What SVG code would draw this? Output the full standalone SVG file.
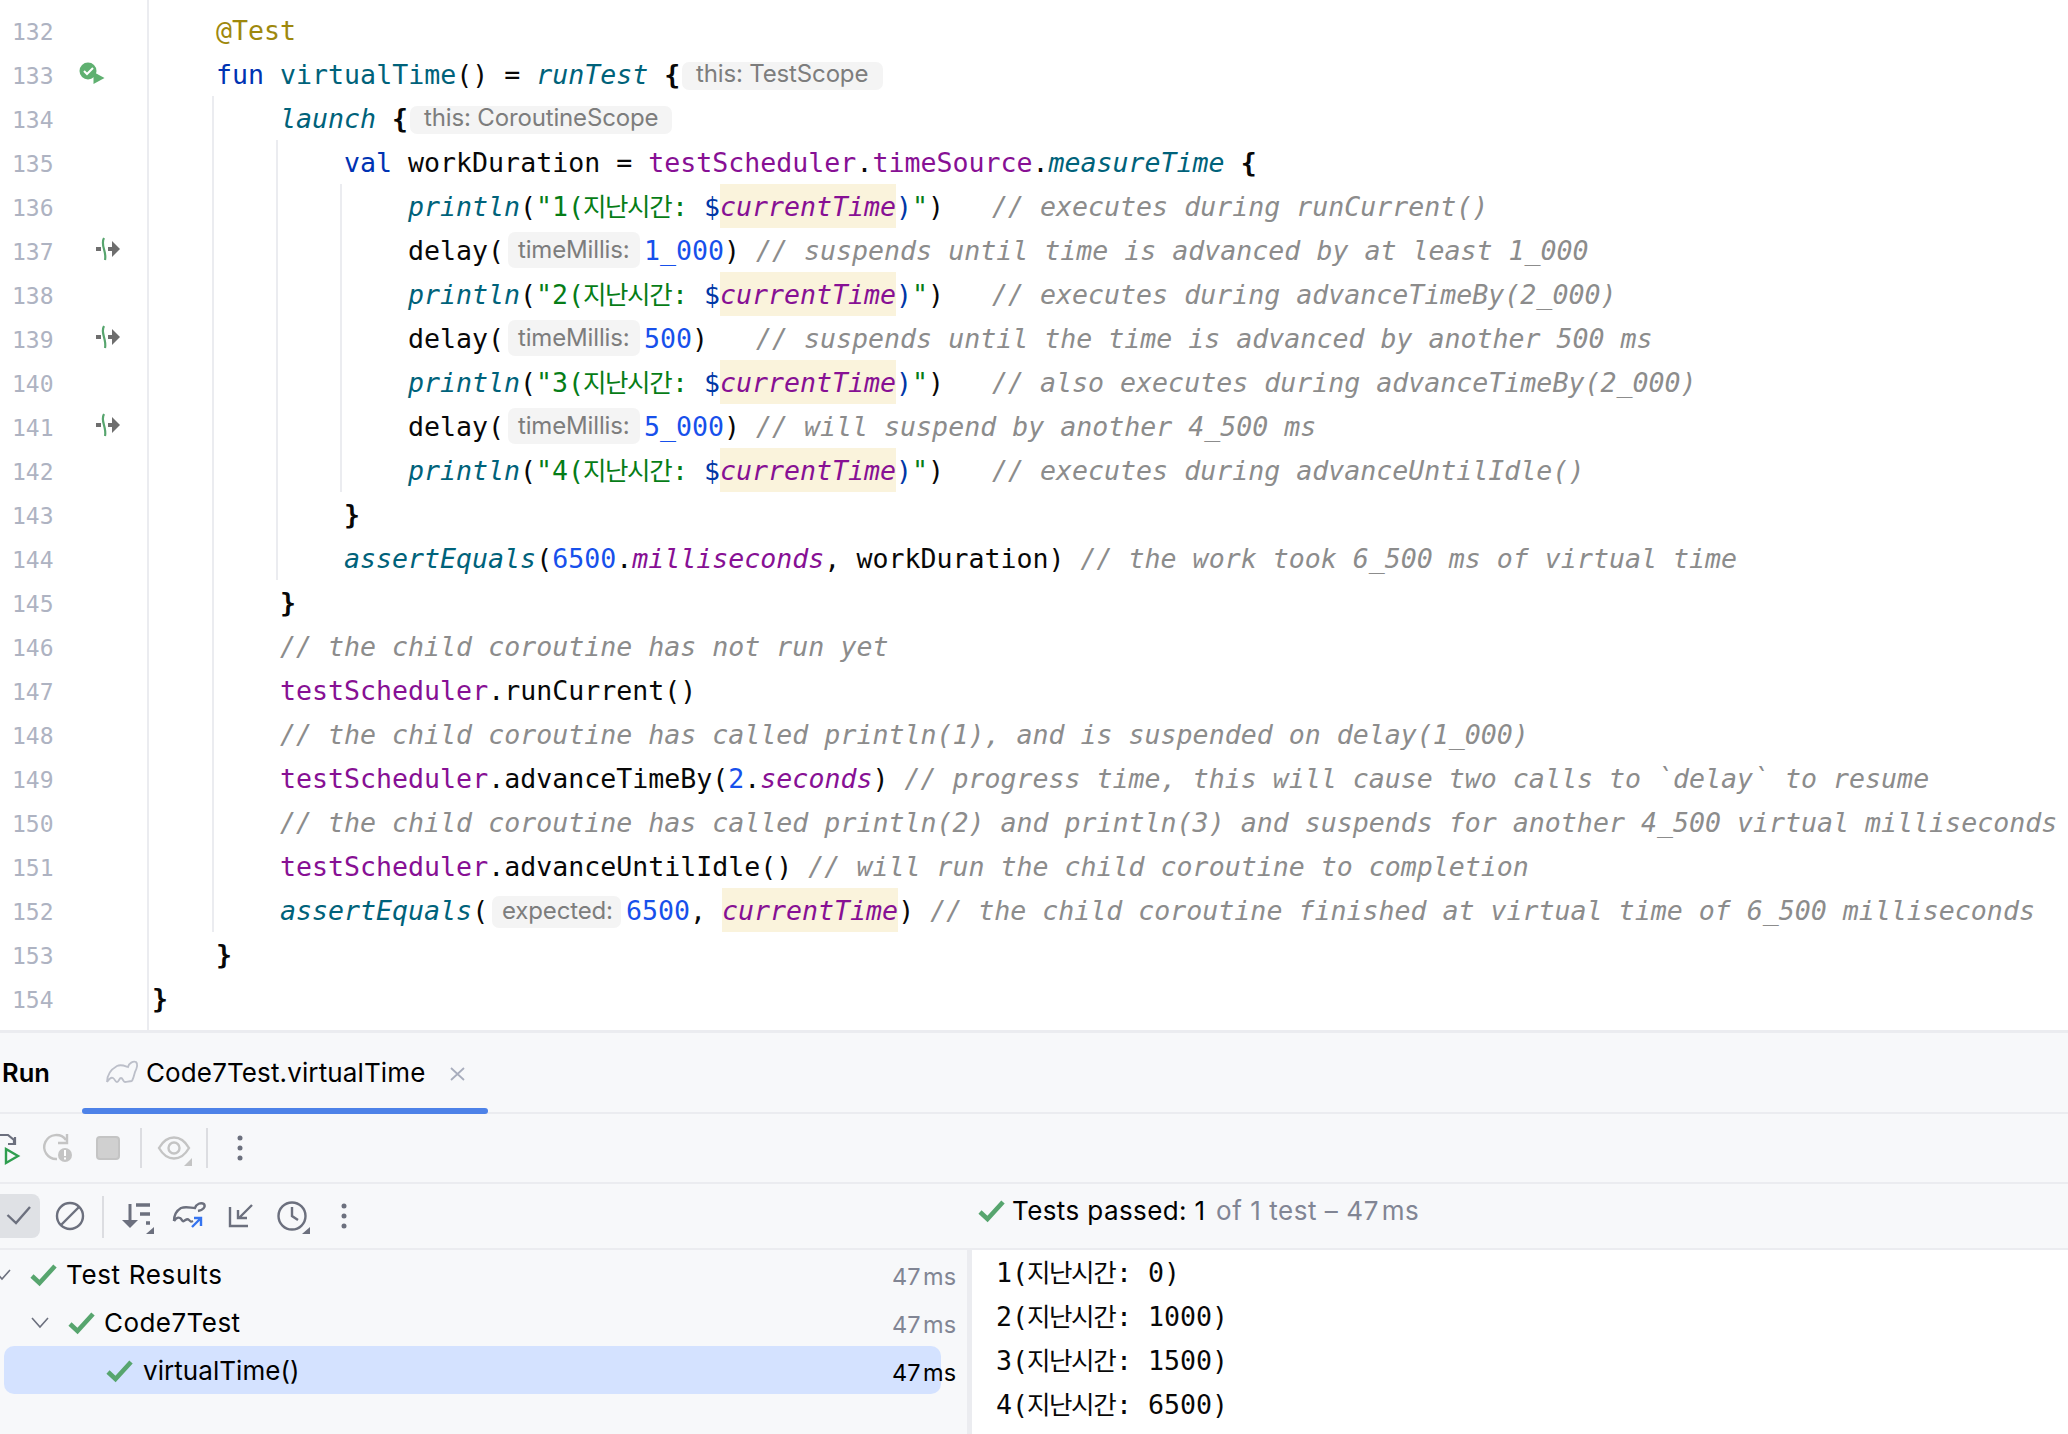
<svg xmlns="http://www.w3.org/2000/svg" width="2068" height="1434" viewBox="0 0 2068 1434">
<style>
text{white-space:pre}
.c{font-family:"DejaVu Sans Mono","Liberation Mono",monospace;font-size:26.6px;fill:#080808}
.k{fill:#0033b3}.f{fill:#00627a}.i{font-style:italic}.p{fill:#871094}.s{fill:#067d17}.m{fill:#8c8c8c;font-style:italic}.n{fill:#1750eb}.a{fill:#9e880d}.d{fill:#0037a6}.b{font-weight:bold}
.h{font-family:"Noto Sans CJK KR",sans-serif;font-size:25.500px;letter-spacing:-1.400px}
.ln{font-family:"DejaVu Sans Mono",monospace;font-size:23px;fill:#aeb3c2}
.u{font-family:Inter,"Noto Sans",sans-serif}
.il{font-family:Inter,"Noto Sans",sans-serif;font-size:24px;fill:#7d7d7d;letter-spacing:-.15px}
.ib{fill:#f4f4f4}
.hl{fill:#faf3dc}
.ig{fill:#ebecf0}
.t{font-family:Inter,"Noto Sans",sans-serif;font-size:26px;fill:#000}
.g{fill:#818594}
.ms{font-size:23.500px;word-spacing:-4px}
.ck{fill:none;stroke:#57a56e;stroke-width:4.600}
.ic{fill:none;stroke:#6c707e;stroke-width:2.400}
.dis{fill:none;stroke:#c4c4c4;stroke-width:2.400}
</style>
<defs>
<g id="susp"><rect x="96" y="-2" width="5" height="4" fill="#6e6e6e"/><rect x="108" y="-2" width="6" height="4" fill="#6e6e6e"/><path d="M112-8L120 0 112 8Z" fill="#6e6e6e"/><path d="M104-11C100-4 107 2 105 11" fill="none" stroke="#57a56e" stroke-width="2.200"/></g>
<path id="tick" d="M1 10L8.500 17 24 0" class="ck"/>
</defs>
<rect width="2068" height="1434" fill="#fff"/>
<g id="editor-guides">
<rect class="ig" x="147" y="0" width="2" height="1030"/>
<rect class="ig" x="212" y="96" width="2" height="836"/>
<rect class="ig" x="276" y="140" width="2" height="440"/>
<rect class="ig" x="340" y="184" width="2" height="308"/>
</g>
<g id="highlights">
<rect class="hl" x="720" y="184" width="176" height="44"/>
<rect class="hl" x="720" y="272" width="176" height="44"/>
<rect class="hl" x="720" y="360" width="176" height="44"/>
<rect class="hl" x="720" y="448" width="176" height="44"/>
<rect class="hl" x="722" y="888" width="176" height="44"/>
</g>
<g id="line-numbers" class="ln">
<text x="12" y="40">132</text><text x="12" y="84">133</text><text x="12" y="128">134</text><text x="12" y="172">135</text><text x="12" y="216">136</text><text x="12" y="260">137</text><text x="12" y="304">138</text><text x="12" y="348">139</text><text x="12" y="392">140</text><text x="12" y="436">141</text><text x="12" y="480">142</text><text x="12" y="524">143</text><text x="12" y="568">144</text><text x="12" y="612">145</text><text x="12" y="656">146</text><text x="12" y="700">147</text><text x="12" y="744">148</text><text x="12" y="788">149</text><text x="12" y="832">150</text><text x="12" y="876">151</text><text x="12" y="920">152</text><text x="12" y="964">153</text><text x="12" y="1008">154</text>
</g>
<g id="gutter-icons">
<circle cx="88" cy="71" r="8.500" fill="#5fb070"/><path d="M84 71l3 3 6-6" fill="none" stroke="#fff" stroke-width="2"/><path d="M93.500 72L104.500 78 93.500 84Z" fill="#5fb070"/>
<use href="#susp" y="249"/><use href="#susp" y="337"/><use href="#susp" y="425"/>
</g>
<g id="inlays">
<rect class="ib" x="682" y="62" width="201" height="28" rx="7"/>
<rect class="ib" x="410" y="106" width="262" height="28" rx="7"/>
<rect class="ib" x="508" y="232" width="132" height="36" rx="7"/>
<rect class="ib" x="508" y="320" width="132" height="36" rx="7"/>
<rect class="ib" x="508" y="408" width="132" height="36" rx="7"/>
<rect class="ib" x="492" y="896" width="129" height="32" rx="7"/>
<text class="il" x="696" y="82">this: TestScope</text>
<text class="il" x="424" y="126">this: CoroutineScope</text>
<text class="il" x="518" y="258">timeMillis:</text>
<text class="il" x="518" y="346">timeMillis:</text>
<text class="il" x="518" y="434">timeMillis:</text>
<text class="il" x="502" y="919">expected:</text>
</g>
<g id="code" class="c">
<text x="216" y="40" class="a">@Test</text>
<text x="216" y="84"><tspan class="k">fun</tspan> <tspan class="f">virtualTime</tspan>() = <tspan class="f i">runTest</tspan> <tspan class="b">{</tspan></text>
<text x="280" y="128"><tspan class="f i">launch</tspan> <tspan class="b">{</tspan></text>
<text x="344" y="172"><tspan class="k">val</tspan> workDuration = <tspan class="p">testScheduler</tspan>.<tspan class="p">timeSource</tspan>.<tspan class="f i">measureTime</tspan> <tspan class="b">{</tspan></text>

<text x="408" y="216"><tspan class="f i">println</tspan>(<tspan class="s">"1(</tspan><tspan class="s h" x="583">지난시간</tspan><tspan class="s" x="672">: </tspan><tspan class="d" x="704">$</tspan><tspan class="p i" x="720">currentTime</tspan><tspan x="896" class="d">)</tspan><tspan class="s">"</tspan>)<tspan class="m" x="992">// executes during runCurrent()</tspan></text>
<text x="408" y="260">delay(<tspan class="n" x="644">1_000</tspan>)<tspan class="m" x="756">// suspends until time is advanced by at least 1_000</tspan></text>
<text x="408" y="304"><tspan class="f i">println</tspan>(<tspan class="s">"2(</tspan><tspan class="s h" x="583">지난시간</tspan><tspan class="s" x="672">: </tspan><tspan class="d" x="704">$</tspan><tspan class="p i" x="720">currentTime</tspan><tspan x="896" class="d">)</tspan><tspan class="s">"</tspan>)<tspan class="m" x="992">// executes during advanceTimeBy(2_000)</tspan></text>
<text x="408" y="348">delay(<tspan class="n" x="644">500</tspan>)<tspan class="m" x="756">// suspends until the time is advanced by another 500 ms</tspan></text>
<text x="408" y="392"><tspan class="f i">println</tspan>(<tspan class="s">"3(</tspan><tspan class="s h" x="583">지난시간</tspan><tspan class="s" x="672">: </tspan><tspan class="d" x="704">$</tspan><tspan class="p i" x="720">currentTime</tspan><tspan x="896" class="d">)</tspan><tspan class="s">"</tspan>)<tspan class="m" x="992">// also executes during advanceTimeBy(2_000)</tspan></text>
<text x="408" y="436">delay(<tspan class="n" x="644">5_000</tspan>)<tspan class="m" x="756">// will suspend by another 4_500 ms</tspan></text>
<text x="408" y="480"><tspan class="f i">println</tspan>(<tspan class="s">"4(</tspan><tspan class="s h" x="583">지난시간</tspan><tspan class="s" x="672">: </tspan><tspan class="d" x="704">$</tspan><tspan class="p i" x="720">currentTime</tspan><tspan x="896" class="d">)</tspan><tspan class="s">"</tspan>)<tspan class="m" x="992">// executes during advanceUntilIdle()</tspan></text>
<text x="344" y="524" class="b">}</text>
<text x="344" y="568"><tspan class="f i">assertEquals</tspan>(<tspan class="n">6500</tspan>.<tspan class="p i">milliseconds</tspan>, workDuration) <tspan class="m">// the work took 6_500 ms of virtual time</tspan></text>
<text x="280" y="612" class="b">}</text>
<text x="280" y="656" class="m">// the child coroutine has not run yet</text>
<text x="280" y="700"><tspan class="p">testScheduler</tspan>.runCurrent()</text>
<text x="280" y="744" class="m">// the child coroutine has called println(1), and is suspended on delay(1_000)</text>
<text x="280" y="788"><tspan class="p">testScheduler</tspan>.advanceTimeBy(<tspan class="n">2</tspan>.<tspan class="p i">seconds</tspan>) <tspan class="m">// progress time, this will cause two calls to `delay` to resume</tspan></text>
<text x="280" y="832" class="m">// the child coroutine has called println(2) and println(3) and suspends for another 4_500 virtual milliseconds</text>
<text x="280" y="876"><tspan class="p">testScheduler</tspan>.advanceUntilIdle() <tspan class="m">// will run the child coroutine to completion</tspan></text>
<text x="280" y="920"><tspan class="f i">assertEquals</tspan>(<tspan class="n" x="626">6500</tspan>, <tspan class="p i" x="722">currentTime</tspan>) <tspan class="m">// the child coroutine finished at virtual time of 6_500 milliseconds</tspan></text>
<text x="216" y="964" class="b">}</text>
<text x="152" y="1008" class="b">}</text>
</g>
<g id="panel">
<rect x="0" y="1030" width="2068" height="404" fill="#f7f8fa"/>
<rect class="ig" x="0" y="1030" width="2068" height="3"/>
<rect class="ig" x="0" y="1112" width="2068" height="2"/>
<rect class="ig" x="0" y="1182" width="2068" height="2"/>
<rect class="ig" x="0" y="1248" width="2068" height="2"/>
<rect x="972" y="1250" width="1096" height="184" fill="#fff"/>
<rect class="ig" x="967" y="1250" width="5" height="184"/>
</g>
<g id="tabs">
<text class="u" x="2" y="1082" font-size="25.500" font-weight="600" fill="#000">Run</text>
<path d="M107 1082C107 1075 110 1070 117 1066 121 1064 125 1066 128 1067 129 1063 133 1061 136 1062 138 1064 137 1068 135 1072 134 1076 133 1079 132 1081M107 1082C109 1079 111 1077 113 1078S115 1082 117 1082 119 1078 121 1078 123 1082 125 1082 129 1081 132 1081" fill="none" stroke="#bcbfc9" stroke-width="1.800"/>
<text class="u" x="146" y="1082" font-size="26" letter-spacing=".12" fill="#000">Code7Test.virtualTime</text>
<path d="M451 1068l13 12M464 1068l-13 12" stroke="#a8adbd" stroke-width="1.800"/>
<rect x="82" y="1108" width="406" height="6" rx="3" fill="#4d82e8"/>
</g>
<g id="toolbar-run">
<path d="M0 1135h8l6 5v5M8 1144h7v-7" fill="none" stroke="#6c707e" stroke-width="2.200"/>
<path d="M6 1149L18 1156 6 1163Z" fill="none" stroke="#2f9e4f" stroke-width="2.400"/>
<path d="M57 1159a12 12 0 1 1 9-19" class="dis"/><path d="M67 1134v9h-9" class="dis"/>
<circle cx="65" cy="1155" r="7" fill="#c4c4c4"/><rect x="64" y="1150" width="2" height="6" fill="#fff"/><rect x="64" y="1157.500" width="2" height="2" fill="#fff"/>
<rect x="97" y="1137" width="22" height="22" rx="3" fill="#d0d0d0" stroke="#c4c4c4" stroke-width="2"/>
<rect x="140" y="1128" width="2" height="40" fill="#dcdde1"/>
<path d="M159 1148c8-14 22-14 30 0-8 14-22 14-30 0z" class="dis"/><circle cx="174" cy="1148" r="5.500" class="dis"/>
<path d="M192 1158v8h-8z" fill="#c4c4c4"/>
<rect x="206" y="1128" width="2" height="40" fill="#dcdde1"/>
<circle cx="240" cy="1138" r="2.500" fill="#6c707e"/><circle cx="240" cy="1148" r="2.500" fill="#6c707e"/><circle cx="240" cy="1158" r="2.500" fill="#6c707e"/>
</g>
<g id="toolbar-test">
<rect x="-10" y="1194" width="50" height="44" rx="8" fill="#dfe1e5"/>
<path d="M7.500 1215L16 1223 30 1207" class="ic"/>
<circle cx="70" cy="1216" r="13" class="ic"/><path d="M61 1225L79 1207" class="ic"/>
<rect x="102" y="1196" width="2" height="42" fill="#dcdde1"/>
<path d="M130 1204v18" stroke="#6c707e" stroke-width="3"/><path d="M122 1220h16l-8 8z" fill="#6c707e"/>
<path d="M136 1205h14M140 1214h10M146 1223h4" stroke="#6c707e" stroke-width="3.500"/>
<path d="M154 1227v7h-8z" fill="#6c707e"/>
<path d="M174 1221C174 1215 176 1211 181 1208 186 1206 191 1208 195 1208 196 1204 201 1202 204 1204 206 1207 203 1210 198 1211M174 1221C176 1218 178 1217 180 1218S182 1222 184 1221 187 1218 189 1220 191 1222 193 1221" class="ic"/>
<path d="M192 1227l9-9M194 1218h7v8" fill="none" stroke="#3574f0" stroke-width="2.400"/>
<path d="M230 1207v19h18M252 1205l-13 13M238 1210v8h9" class="ic"/>
<circle cx="292" cy="1216" r="13.500" class="ic"/><path d="M292 1207v9l6 4" class="ic"/>
<path d="M310 1227v7h-8z" fill="#6c707e"/>
<circle cx="344" cy="1206" r="2.500" fill="#6c707e"/><circle cx="344" cy="1216" r="2.500" fill="#6c707e"/><circle cx="344" cy="1226" r="2.500" fill="#6c707e"/>
</g>
<g id="status">
<use href="#tick" x="979" y="1202"/>
<text class="t" x="1012" y="1220" letter-spacing=".4">Tests passed: 1</text>
<text class="t g" x="1216" y="1220" letter-spacing=".55">of 1 test – <tspan word-spacing="-5">47 ms</tspan></text>
</g>
<g id="tree">
<rect x="4" y="1346" width="937" height="48" rx="10" fill="#d4e2ff"/>
<path d="M-6 1270l8 9 8-9" fill="none" stroke="#6c707e" stroke-width="1.600"/>
<path d="M32 1318l8 9 8-9" fill="none" stroke="#6c707e" stroke-width="1.600"/>
<use href="#tick" x="31" y="1266"/><use href="#tick" x="69" y="1314"/><use href="#tick" x="107" y="1362"/>
<text class="t" x="66" y="1284" letter-spacing=".65">Test Results</text>
<text class="t" x="104" y="1332" letter-spacing=".45">Code7Test</text>
<text class="t" x="143" y="1380" letter-spacing=".05">virtualTime()</text>
<text class="t g ms" x="892" y="1285">47 ms</text>
<text class="t g ms" x="892" y="1333">47 ms</text>
<text class="t ms" x="892" y="1381">47 ms</text>
</g>
<g id="output" class="c">
<text x="996" y="1282">1(<tspan class="h" x="1027">지난시간</tspan><tspan x="1116">:</tspan><tspan x="1148">0)</tspan></text>
<text x="996" y="1326">2(<tspan class="h" x="1027">지난시간</tspan><tspan x="1116">:</tspan><tspan x="1148">1000)</tspan></text>
<text x="996" y="1370">3(<tspan class="h" x="1027">지난시간</tspan><tspan x="1116">:</tspan><tspan x="1148">1500)</tspan></text>
<text x="996" y="1414">4(<tspan class="h" x="1027">지난시간</tspan><tspan x="1116">:</tspan><tspan x="1148">6500)</tspan></text>
</g>
</svg>
